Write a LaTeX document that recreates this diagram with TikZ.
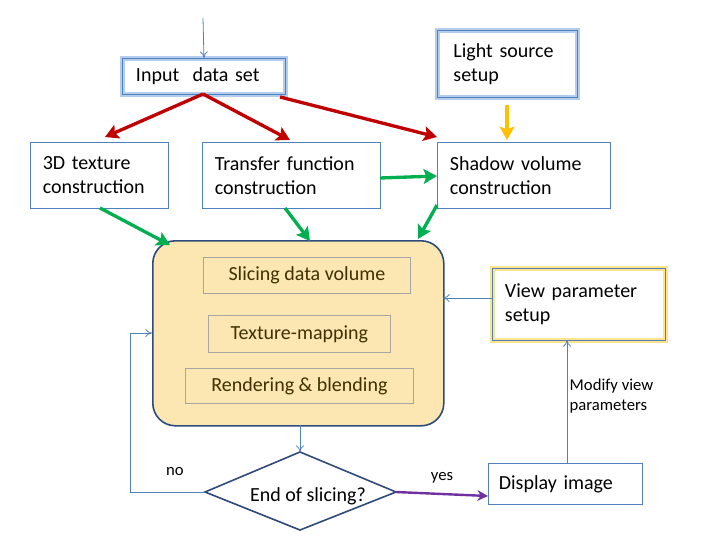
\documentclass[tikz,border=0pt]{standalone}
\usepackage{fontspec}
\setmainfont{Carlito}
\usetikzlibrary{shapes.geometric,arrows.meta}
\definecolor{bl}{HTML}{4F81BD}
\definecolor{dbl}{HTML}{2F4B7C}
\definecolor{glow}{HTML}{B4CCEE}
\definecolor{dred}{HTML}{C00000}
\definecolor{grn}{HTML}{00B050}
\definecolor{yel}{HTML}{FFC000}
\definecolor{pur}{HTML}{7030A0}
\definecolor{cream}{HTML}{FCE6B2}
\definecolor{brn}{HTML}{3F3100}
\begin{document}
\begin{tikzpicture}[x=0.75pt,y=-0.75pt,
  box/.style={draw=bl,line width=0.7pt,align=left,font=\fontsize{15}{18}\selectfont,inner sep=0pt,anchor=north west},
  glowbox/.style={box,preaction={draw=#1,line width=4pt}},
  glowbox/.default=glow,
  inner/.style={draw=gray!70,fill=cream,line width=0.6pt,font=\fontsize{15}{18}\selectfont,text=brn,inner sep=0pt,anchor=north west},
  thin/.style={draw=bl,line width=0.6pt,-{To[length=5pt,width=6pt]}},
  fat/.style={line width=2.5pt,-{Stealth[length=10pt,width=11pt,inset=2pt]}},
  lab/.style={font=\fontsize{12.5}{15}\selectfont,align=left}]
\useasboundingbox (0,0) rectangle (727,557);
\node[glowbox,minimum width=122.25pt,minimum height=27pt,text width=112pt] (in) at (122,58) {\hspace*{5pt}Input\ \ data set};
\node[glowbox,minimum width=105pt,minimum height=50.25pt,text width=97pt] (ls) at (437,30) {\hspace*{8pt}Light source\\\hspace*{8pt}setup};
\node[box,minimum width=103.5pt,minimum height=49.5pt,text width=97pt] (t3) at (30,142) {\hspace*{6pt}3D texture\\\hspace*{6pt}construction};
\node[box,minimum width=133.5pt,minimum height=49.5pt,text width=127pt] (tf) at (202,142) {\hspace*{6pt}Transfer function\\\hspace*{6pt}construction};
\node[box,minimum width=129.75pt,minimum height=49.5pt,text width=123pt] (sv) at (437,142) {\hspace*{6pt}Shadow volume\\\hspace*{6pt}construction};
\node[draw=dbl,fill=cream,line width=1.2pt,rounded corners=17pt,minimum width=218.25pt,minimum height=138.75pt,anchor=north west,inner sep=0pt] (big) at (152,240) {};
\node[inner,minimum width=155.25pt,minimum height=27pt] (s1) at (203,257) {Slicing data volume};
\node[inner,minimum width=136.5pt,minimum height=27.75pt] (s2) at (208,315) {Texture-mapping};
\node[inner,minimum width=171pt,minimum height=26.25pt] (s3) at (185,368) {Rendering \& blending};
\node[glowbox=yel!45,minimum width=129.75pt,minimum height=54pt,text width=123pt] (vp) at (492,268) {\hspace*{6pt}View parameter\\\hspace*{6pt}setup};
\coordinate (dmn) at (300,452);
\coordinate (dmw) at (205,492);
\coordinate (dme) at (396,492);
\coordinate (dms) at (300,530);
\draw[dbl,line width=1.2pt] (dmn) -- (dme) -- (dms) -- (dmw) -- cycle;
\node[font=\fontsize{15}{18}\selectfont] (dm) at (308,496) {End of slicing?};
\node[box,minimum width=115.5pt,minimum height=30.75pt,text width=110pt] (di) at (488,463) {\hspace*{5pt}Display image};
\coordinate (top) at (203,18);
\draw[thin] (top) -- (in.north);
\draw[dred,fat] (203,94) -- (105,137);
\draw[dred,fat] (203,94) -- (290,140);
\draw[dred,fat] (280,97) -- (437,137);
\draw[yel,fat] (507,105) -- (507,140);
\draw[grn,fat] (380,178) -- (437,176);
\draw[grn,fat] (100,208) -- (170,245);
\draw[grn,fat] (285,208) -- (310,241);
\draw[grn,fat] (437,205) -- (418,239);
\draw[thin] (300,425) -- (dmn);
\draw[thin] (dmw) -- (130,492) -- (130,333) -- (152,333);
\node[lab] at (175,472) {no};
\draw[pur,line width=1.8pt,-{Stealth[length=8pt,width=8pt]}] (dme) -- (488,496);
\node[lab] at (442,478) {yes};
\draw[thin] (567,463) -- (567,340);
\node[lab,anchor=west] at (565,396) {Modify view\\parameters};
\draw[thin] (492,298) -- (443,298);
\end{tikzpicture}
\end{document}
